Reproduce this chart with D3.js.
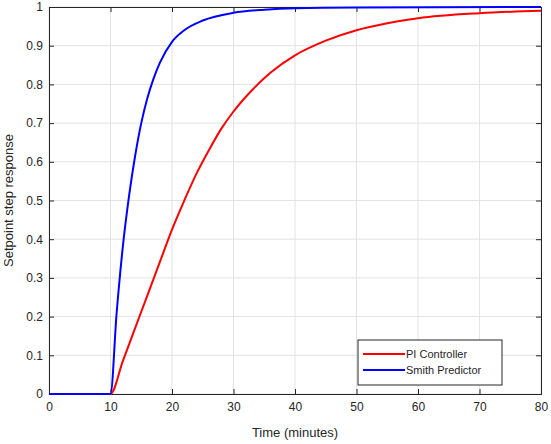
<!DOCTYPE html><html><head><script src="https://cdn.jsdelivr.net/npm/d3@7"></script>
<style>body{margin:0;background:#fff}text{font-family:Arial,"Liberation Sans",sans-serif;fill:#262626}</style></head><body>
<svg id="c" width="551" height="444"></svg>
<script>
const piT=[0,10,12,14,16,18,20,22,24,26,28,30,33,36,40,45,50,55,60,70,80];
const piY=[0,0,0.085,0.17,0.255,0.34,0.425,0.5,0.57,0.63,0.685,0.73,0.785,0.83,0.875,0.913,0.94,0.958,0.971,0.984,0.99];
const spT=[0,10,11,12,13,14,15,16,17,18,20,22,25,30,35,40,50,80];
const spY=[0,0,0.21,0.38,0.51,0.615,0.7,0.765,0.815,0.855,0.91,0.94,0.965,0.985,0.993,0.997,0.999,1];
const xTicks=[0,10,20,30,40,50,60,70,80];
const yTicks=[0,0.1,0.2,0.3,0.4,0.5,0.6,0.7,0.8,0.9,1];
const svg=d3.select("#c");
const L=49,R=541,T=7,B=394;
const x=d3.scaleLinear().domain([0,80]).range([L,R]);
const y=d3.scaleLinear().domain([0,1]).range([B,T]);
const g=svg.append("g");
xTicks.forEach(t=>g.append("line").attr("x1",x(t)).attr("x2",x(t)).attr("y1",T).attr("y2",B).attr("stroke","#e3e3e3"));
yTicks.forEach(t=>g.append("line").attr("y1",y(t)).attr("y2",y(t)).attr("x1",L).attr("x2",R).attr("stroke","#e3e3e3"));
svg.append("g").attr("transform",`translate(0,${B})`).call(d3.axisBottom(x).tickValues(xTicks).tickSize(-5).tickPadding(8));
svg.append("g").attr("transform",`translate(${L},0)`).call(d3.axisLeft(y).tickValues(yTicks).tickFormat(d3.format("")).tickSize(-5).tickPadding(6));
svg.append("g").attr("transform",`translate(${R},0)`).call(d3.axisRight(y).tickValues(yTicks).tickSize(-5).tickFormat(""));
svg.append("g").attr("transform",`translate(0,${T})`).call(d3.axisTop(x).tickValues(xTicks).tickSize(-5).tickFormat(""));
svg.selectAll(".domain").attr("stroke","#262626");
svg.selectAll(".tick line").attr("stroke","#262626");
svg.selectAll(".tick text").style("font-size","12px");
const line=d3.line().x(d=>x(d[0])).y(d=>y(d[1])).curve(d3.curveMonotoneX);
svg.append("path").datum(piT.map((t,i)=>[t,piY[i]])).attr("d",line).attr("fill","none").attr("stroke","#ff0000").attr("stroke-width",2);
svg.append("path").datum(spT.map((t,i)=>[t,spY[i]])).attr("d",line).attr("fill","none").attr("stroke","#0000ff").attr("stroke-width",2);
svg.append("text").attr("x",(L+R)/2).attr("y",437).attr("text-anchor","middle").style("font-size","13px").text("Time (minutes)");
svg.append("text").attr("transform",`translate(13,${(T+B)/2}) rotate(-90)`).attr("text-anchor","middle").style("font-size","13px").text("Setpoint step response");
const lg=svg.append("g").attr("transform","translate(358,340)");
lg.append("rect").attr("width",144).attr("height",45).attr("fill","#fff").attr("stroke","#262626");
[["PI Controller","#ff0000"],["Smith Predictor","#0000ff"]].forEach((d,i)=>{
 lg.append("line").attr("x1",5).attr("x2",47).attr("y1",14+i*16).attr("y2",14+i*16).attr("stroke",d[1]).attr("stroke-width",2);
 lg.append("text").attr("x",48).attr("y",18+i*16).style("font-size","11px").text(d[0]);
});
</script></body></html>
